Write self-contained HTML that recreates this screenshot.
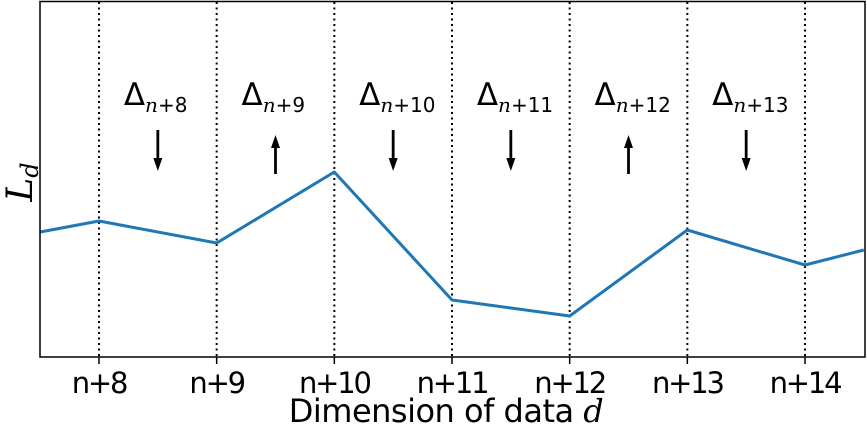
<!DOCTYPE html>
<html><head><meta charset="utf-8"><style>
html,body{margin:0;padding:0;background:#fff;}
svg text{font-family:"DejaVu Sans","Liberation Sans",sans-serif;}
.serif{font-family:"DejaVu Serif","Liberation Serif",serif !important;font-style:italic;}
</style></head><body>
<svg id="chart" width="867" height="430" xmlns="http://www.w3.org/2000/svg">
<g id="grid"></g>
<g id="arrows"></g>
<path id="line" fill="none" stroke="#1f77b4" stroke-width="3" stroke-linejoin="round"/>
<rect x="40" y="1.5" width="825" height="355.5" fill="none" stroke="#000" stroke-width="1.5"/>
<g id="ticks"></g>
<text x="446" y="422" font-size="32" text-anchor="middle" letter-spacing="-0.5">Dimension of data <tspan class="serif">d</tspan></text>
<text transform="translate(32,182) rotate(-90)" font-size="36" text-anchor="middle"><tspan class="serif">L</tspan><tspan class="serif" font-size="24" dy="6">d</tspan></text>
</svg>
<script>
const xPositions = [7.5, 8, 9, 10, 11, 12, 13, 14, 14.5];
const ldValues = [124, 135, 113, 184, 56, 40, 126, 91, 106];
const tickDims = [8, 9, 10, 11, 12, 13, 14];
const tickLabels = ["n+8","n+9","n+10","n+11","n+12","n+13","n+14"];
const deltaDims = [8, 9, 10, 11, 12, 13];
const deltaDirs = ["down","up","down","down","up","down"];

const NS = "http://www.w3.org/2000/svg";
function xs(d){ return 99 + (d - 8) * 117.6667; }
function ys(v){ return 356 - v; }
function mk(tag, attrs, parent){
  const e = document.createElementNS(NS, tag);
  for (const k in attrs) e.setAttribute(k, attrs[k]);
  parent.appendChild(e); return e;
}
const grid = document.getElementById('grid');
const ticks = document.getElementById('ticks');
const arrows = document.getElementById('arrows');
tickDims.forEach((d, i) => {
  const x = xs(d);
  const g = mk('line', {x1:x, x2:x, y1:2, y2:356, stroke:'#000', 'stroke-width':2, 'stroke-dasharray':'2,3.5'}, grid);
  
  
  const t = mk('line', {x1:x, x2:x, y1:357, y2:364, stroke:'#000', 'stroke-width':1.5}, ticks);
  
  
  const l = mk('text', {x:x, y:393, 'font-size':29, 'text-anchor':'middle', 'letter-spacing':-2.2}, ticks);
  l.textContent = tickLabels[i];
  
  
});
deltaDims.forEach((d, i) => {
  const x = xs(d + 0.5);
  const lab = mk('text', {x:x - 34, y:105, 'font-size':31}, arrows);
  
  
  lab.innerHTML = 'Δ<tspan font-size="20" dy="7"><tspan class="serif">n</tspan>+' + (d) + '</tspan>';
  const up = deltaDirs[i] === 'up';
  const y0 = up ? 174 : 130, y1 = up ? 135 : 171;
  const a = mk('line', {x1:x, x2:x, y1:y0, y2:y1 + (up ? 8 : -8), stroke:'#000', 'stroke-width':2.8}, arrows);
  
  
  const h = up ? `${x-4.5},${y1+13} ${x},${y1} ${x+4.5},${y1+13}` : `${x-4.5},${y1-13} ${x},${y1} ${x+4.5},${y1-13}`;
  const p = mk('polygon', {points:h, fill:'#000'}, arrows);
  
  
});
document.getElementById('line').setAttribute('d',
  xPositions.map((d, i) => (i ? 'L' : 'M') + xs(d).toFixed(1) + ',' + ys(ldValues[i])).join(' '));
</script>
</body></html>
